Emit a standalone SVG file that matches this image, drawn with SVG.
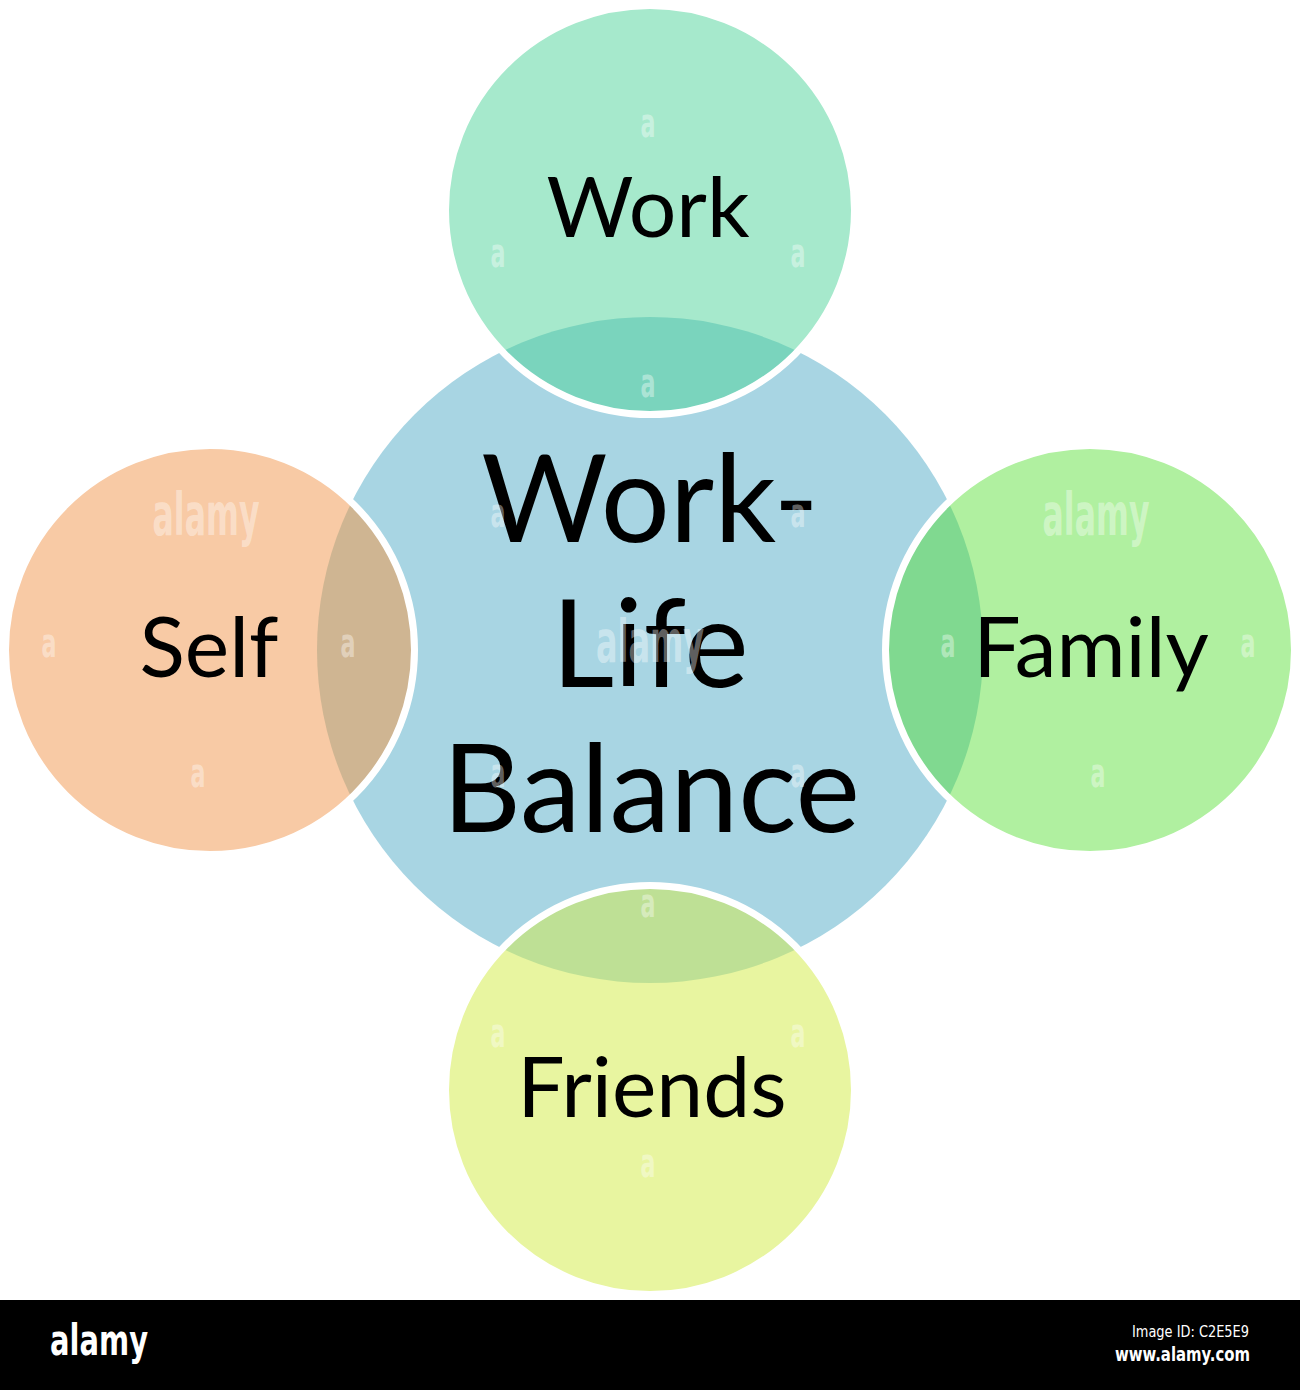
<svg xmlns="http://www.w3.org/2000/svg" width="1300" height="1390" viewBox="0 0 1300 1390">
<style>
.lbl{font-family:Lato,"Open Sans","Liberation Sans",sans-serif;fill:#000;text-anchor:middle}
.sm{font-size:84px}
.big{font-size:122px}
.ring{fill:none;stroke:#fff;stroke-width:7}
.wm{font-family:"DejaVu Sans Condensed","DejaVu Sans",sans-serif;font-weight:bold;fill:#fff;fill-opacity:0.4;text-anchor:middle}
.wa{font-size:40px}
.wl{font-size:58px}
.bar{font-family:"DejaVu Sans Condensed","DejaVu Sans",sans-serif;fill:#fff}
</style>
<defs>
<clipPath id="cc"><circle cx="650" cy="650" r="333"/></clipPath>
</defs>
<rect width="1300" height="1390" fill="#fff"/>
<g id="center">
<circle cx="650" cy="650" r="333" fill="#A8D5E3"/>
</g>
<g id="work">
<circle cx="650" cy="210" r="204" fill="#A6E9CC"/>
<circle cx="650" cy="210" r="204" fill="#7AD4BD" clip-path="url(#cc)"/>
<circle class="ring" cx="650" cy="210" r="204.5"/>
<text class="lbl sm" x="648" y="237">Work</text>
</g>
<g id="self">
<circle cx="210" cy="650" r="204" fill="#F8CAA5"/>
<circle cx="210" cy="650" r="204" fill="#CFB592" clip-path="url(#cc)"/>
<circle class="ring" cx="210" cy="650" r="204.5"/>
<text class="lbl sm" x="209" y="677">Self</text>
</g>
<g id="family">
<circle cx="1090" cy="650" r="204" fill="#B0F0A0"/>
<circle cx="1090" cy="650" r="204" fill="#80D990" clip-path="url(#cc)"/>
<circle class="ring" cx="1090" cy="650" r="204.5"/>
<text class="lbl sm" x="1091" y="677">Family</text>
</g>
<g id="friends">
<circle cx="650" cy="1090" r="204" fill="#E8F5A0"/>
<circle cx="650" cy="1090" r="204" fill="#BEE095" clip-path="url(#cc)"/>
<circle class="ring" cx="650" cy="1090" r="204.5"/>
<text class="lbl sm" x="652" y="1117">Friends</text>
</g>
<g id="center-label">
<text class="lbl big" x="650" y="542">Work-</text>
<text class="lbl big" x="650" y="687">Life</text>
<text class="lbl big" x="651" y="832">Balance</text>
</g>
<g id="connectors"/>
<g id="watermarks">
<text class="wm wa" x="648" y="137" textLength="15" lengthAdjust="spacingAndGlyphs">a</text>
<text class="wm wa" x="498" y="267" textLength="15" lengthAdjust="spacingAndGlyphs">a</text>
<text class="wm wa" x="798" y="267" textLength="15" lengthAdjust="spacingAndGlyphs">a</text>
<text class="wm wa" x="648" y="397" textLength="15" lengthAdjust="spacingAndGlyphs">a</text>
<text class="wm wa" x="498" y="527" textLength="15" lengthAdjust="spacingAndGlyphs">a</text>
<text class="wm wa" x="798" y="527" textLength="15" lengthAdjust="spacingAndGlyphs">a</text>
<text class="wm wa" x="49" y="657" textLength="15" lengthAdjust="spacingAndGlyphs">a</text>
<text class="wm wa" x="348" y="657" textLength="15" lengthAdjust="spacingAndGlyphs">a</text>
<text class="wm wa" x="948" y="657" textLength="15" lengthAdjust="spacingAndGlyphs">a</text>
<text class="wm wa" x="1248" y="657" textLength="15" lengthAdjust="spacingAndGlyphs">a</text>
<text class="wm wa" x="198" y="787" textLength="15" lengthAdjust="spacingAndGlyphs">a</text>
<text class="wm wa" x="498" y="787" textLength="15" lengthAdjust="spacingAndGlyphs">a</text>
<text class="wm wa" x="798" y="787" textLength="15" lengthAdjust="spacingAndGlyphs">a</text>
<text class="wm wa" x="1098" y="787" textLength="15" lengthAdjust="spacingAndGlyphs">a</text>
<text class="wm wa" x="648" y="917" textLength="15" lengthAdjust="spacingAndGlyphs">a</text>
<text class="wm wa" x="498" y="1047" textLength="15" lengthAdjust="spacingAndGlyphs">a</text>
<text class="wm wa" x="798" y="1047" textLength="15" lengthAdjust="spacingAndGlyphs">a</text>
<text class="wm wa" x="648" y="1177" textLength="15" lengthAdjust="spacingAndGlyphs">a</text>
<text class="wm wl" x="206" y="535" textLength="107" lengthAdjust="spacingAndGlyphs">alamy</text>
<text class="wm wl" x="1096" y="535" textLength="107" lengthAdjust="spacingAndGlyphs">alamy</text>
<text class="wm wl" x="650" y="662" textLength="108" lengthAdjust="spacingAndGlyphs">alamy</text>
</g>
<g id="footer">
<rect x="0" y="1300" width="1300" height="90" fill="#000"/>
<text class="bar" x="50" y="1355" font-size="42" font-weight="bold" textLength="98" lengthAdjust="spacingAndGlyphs">alamy</text>
<text class="bar" x="1132" y="1337" font-size="16" textLength="117" lengthAdjust="spacingAndGlyphs">Image ID: C2E5E9</text>
<text class="bar" x="1115" y="1361" font-size="19" font-weight="bold" textLength="135" lengthAdjust="spacingAndGlyphs">www.alamy.com</text>
</g>
</svg>
